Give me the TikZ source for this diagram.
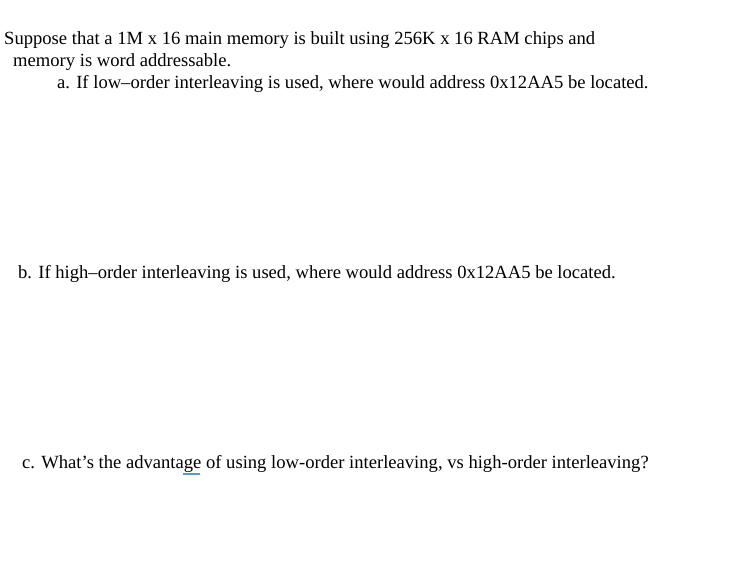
\documentclass[tikz,border=0pt]{standalone}
\usepackage{fontspec}
\setmainfont{Liberation Serif}
\begin{document}
\begin{tikzpicture}[x=1pt,y=-1pt,txt/.style={anchor=base west,inner sep=0pt,font=\fontsize{18.6}{22}\selectfont}]
\useasboundingbox (0,0) rectangle (740,567);
\node[txt] (l1) at (4,45) {Suppose that a 1M x 16 main memory is built using 256K x 16 RAM chips and};
\node[txt] (l2) at (13,67) {memory is word addressable.};
\node[txt] (qa) at (57,89) {a. If low--order interleaving is used, where would address 0x12AA5 be located.};
\node[txt] (qb) at (18,279) {b. If high--order interleaving is used, where would address 0x12AA5 be located.};
\node[txt] (qc) at (22,468) {c. What’s the advantage of using low-order interleaving, vs high-order interleaving?};
\draw[color={rgb,255:red,80;green,150;blue,230},line width=2pt] (183,473.5) -- (200,473.5);
\end{tikzpicture}
\end{document}
